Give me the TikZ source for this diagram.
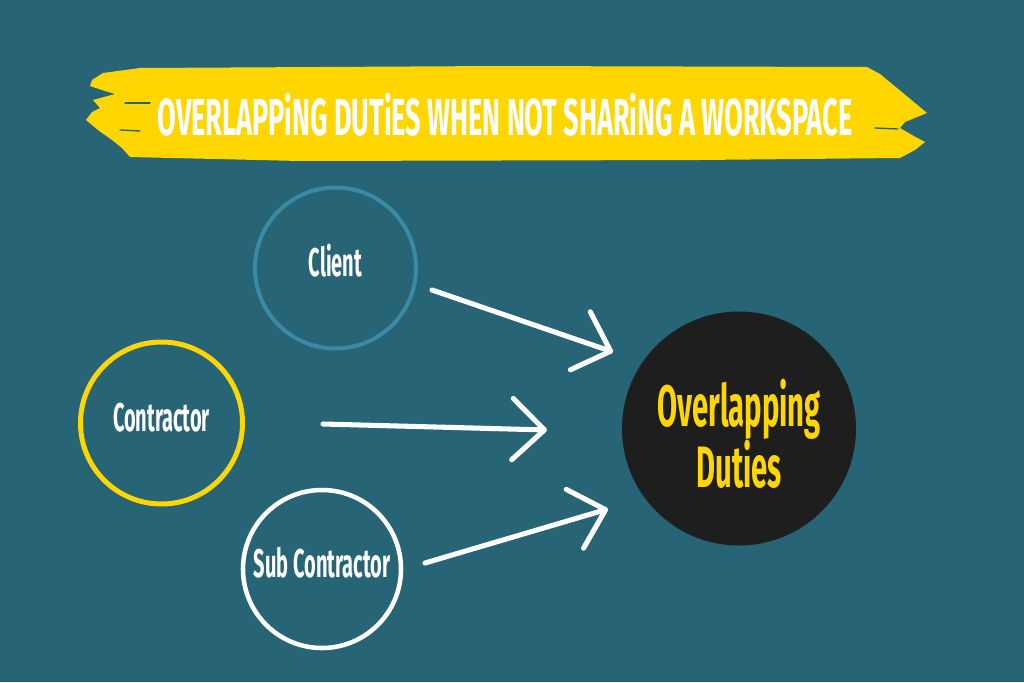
\documentclass[tikz,border=0pt]{standalone}
\usepackage{fontspec}
\usepackage{tikz}
\usetikzlibrary{arrows.meta,positioning}
\newfontfamily\headfont{Fira Sans}[FakeStretch=0.5]
\newfontfamily\titlefont{Fira Sans}[FakeStretch=0.52]
\definecolor{bgteal}{HTML}{266476}
\definecolor{ringblue}{HTML}{3B89A4}
\definecolor{brushyellow}{HTML}{FFD600}
\definecolor{dutyblack}{HTML}{1E1E1E}

\begin{document}
\begin{tikzpicture}[x=0.75pt,y=-0.75pt,line cap=round,line join=round]
    \tikzset{ring/.style={circle,draw,inner sep=0pt,text=white,text height=20pt,text depth=7.3pt,
      font=\headfont\bfseries\fontsize{30}{34}\selectfont}}
    \tikzset{arrowline/.style={draw=white,line width=3.8pt,-{Straight Barb[length=24pt,width=46pt,round]}}}
    \useasboundingbox (0,0) rectangle (1024,682);
    \fill[bgteal] (0,0) rectangle (1024,682);
    % brush banner
    \fill[brushyellow] (103,73) -- (140,68) -- (500,66) -- (867,67) -- (880,74) -- (897,88)
      -- (915,103) -- (927,113) -- (905,122) -- (900,128) -- (912,135) -- (925,142)
      -- (915,150) -- (900,158) -- (700,160) -- (300,161) -- (130,157) -- (122,148)
      -- (112,140) -- (98,130) -- (86,120) -- (92,112) -- (100,108) -- (93,100)
      -- (115,94) -- (105,91) -- (90,86) -- (92,80) -- cycle;
    \draw[bgteal,line width=1pt] (125,103) -- (150,103);
    \draw[bgteal,line width=1pt] (875,128) -- (898,129);
    \draw[bgteal,line width=1pt] (120,130) -- (140,131);
    \node[text=white,inner sep=0pt,font=\titlefont\bfseries\fontsize{39}{42}\selectfont]
      (title) at (505,115) {OVERLAPPiNG DUTiES WHEN NOT SHARiNG A WORKSPACE};
    % circles
    \node[ring,draw=ringblue,line width=3pt,minimum size=120.75pt] (client) at (335.5,268) {Client};
    \node[ring,draw=brushyellow,line width=3.75pt,minimum size=121.5pt] (contractor) at (161.5,423) {Contractor};
    \node[ring,draw=white,line width=3.4pt,minimum size=118.5pt] (sub) at (322,569) {Sub Contractor};
    \node[circle,fill=dutyblack,inner sep=0pt,minimum size=175.5pt,
      label={[text=brushyellow,align=center,yshift=-4pt,
      font=\headfont\bfseries\fontsize{43.8}{45.75}\selectfont]center:Overlapping\\Duties}] (duties) at (739,428.5) {};
    % arrow ends
    \coordinate (clientout) at ([shift={(96.5,22)}]client.center);
    \coordinate (clientin) at ([shift={(-126,-76.5)}]duties.center);
    \coordinate (contractorout) at ([shift={(161.5,1)}]contractor.center);
    \coordinate (contractorin) at ([shift={(-192,1.5)}]duties.center);
    \coordinate (subout) at ([shift={(103,-6)}]sub.center);
    \coordinate (subin) at ([shift={(-131,80.5)}]duties.center);
    \path
    (clientout)
    edge [arrowline] (clientin)
    (contractorout)
    edge [arrowline] (contractorin)
    (subout)
    edge [arrowline] (subin)
    ;
\end{tikzpicture}
\end{document}
